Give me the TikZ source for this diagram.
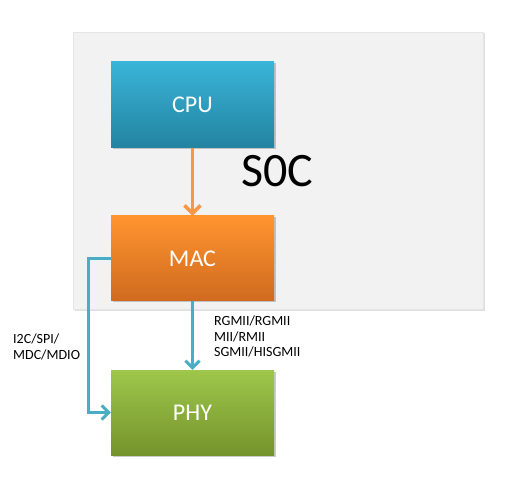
\documentclass[tikz,border=0pt]{standalone}
\usepackage{fontspec}
\setmainfont{Carlito}
\usetikzlibrary{arrows.meta,shadows}
\definecolor{socfill}{HTML}{F2F2F2}
\definecolor{cputop}{HTML}{39B4D8}
\definecolor{cpubot}{HTML}{2383A0}
\definecolor{mactop}{HTML}{FF942F}
\definecolor{macbot}{HTML}{CF6A1F}
\definecolor{phytop}{HTML}{9EC74B}
\definecolor{phybot}{HTML}{75932C}
\definecolor{linkblue}{HTML}{4BACC6}
\definecolor{linkorange}{HTML}{F79646}
\tikzset{
  blockbox/.style={rectangle, minimum width=163pt, minimum height=86pt, inner sep=0pt,
    text=white, font=\fontsize{24}{28}\selectfont,
    drop shadow={shadow xshift=1.5pt, shadow yshift=-1.5pt, opacity=0.35, fill=black!60}},
  link/.style={line width=3pt, draw=linkblue, -{Straight Barb[length=7pt,width=14pt,line width=3pt]}},
  lbl/.style={font=\fontsize{14}{15.5}\selectfont, align=left, inner sep=0pt, anchor=north west}
}
\begin{document}
\begin{tikzpicture}[x=1pt,y=-1pt]
\useasboundingbox (0,0) rectangle (514,494);
\fill[black!12] (74.5,33.5) rectangle (485,311);
\fill[black!22] (74,33) rectangle (484,310);
\node[draw=black!10, fill=socfill, minimum width=410pt, minimum height=277pt, inner sep=0pt] (soc) at (278,170.5) {};
\node[font=\fontsize{48}{50}\selectfont, inner sep=0pt] (soctext) at (277,171) {S0C};
\node[blockbox, top color=cputop, bottom color=cpubot] (cpu) at (192.5,105) {CPU};
\node[blockbox, top color=mactop, bottom color=macbot, minimum height=85pt] (mac) at (192.5,258.5) {MAC};
\node[blockbox, top color=phytop, bottom color=phybot, minimum height=85pt] (phy) at (192.5,412.5) {PHY};
\draw[line width=3.5pt, draw=linkorange, -{Straight Barb[length=8pt,width=16pt,line width=3.5pt]}] (cpu.south) -- (mac.north);
\draw[link] (mac.south) -- (phy.north);
\coordinate (bend) at (88,258.5);
\draw[link] (mac.west) -- (bend) |- (phy.west);
\node[lbl] (rg) at (214,316) {RGMII/RGMII\\MII/RMII\\SGMII/HISGMII};
\node[lbl] (i2c) at (13,334) {I2C/SPI/\\MDC/MDIO};
\end{tikzpicture}
\end{document}
